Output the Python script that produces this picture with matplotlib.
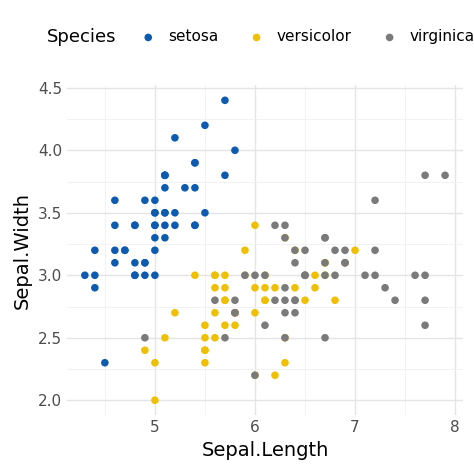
import matplotlib
matplotlib.use('Agg')
import matplotlib.pyplot as plt
from matplotlib.ticker import MultipleLocator
from matplotlib.offsetbox import HPacker

# iris data
setosa_len = [5.1,4.9,4.7,4.6,5.0,5.4,4.6,5.0,4.4,4.9,5.4,4.8,4.8,4.3,5.8,5.7,5.4,5.1,5.7,5.1,5.4,5.1,4.6,5.1,4.8,5.0,5.0,5.2,5.2,4.7,4.8,5.4,5.2,5.5,4.9,5.0,5.5,4.9,4.4,5.1,5.0,4.5,4.4,5.0,5.1,4.8,5.1,4.6,5.3,5.0]
setosa_wid = [3.5,3.0,3.2,3.1,3.6,3.9,3.4,3.4,2.9,3.1,3.7,3.4,3.0,3.0,4.0,4.4,3.9,3.5,3.8,3.8,3.4,3.7,3.6,3.3,3.4,3.0,3.4,3.5,3.4,3.2,3.1,3.4,4.1,4.2,3.1,3.2,3.5,3.6,3.0,3.4,3.5,2.3,3.2,3.5,3.8,3.0,3.8,3.2,3.7,3.3]
versi_len = [7.0,6.4,6.9,5.5,6.5,5.7,6.3,4.9,6.6,5.2,5.0,5.9,6.0,6.1,5.6,6.7,5.6,5.8,6.2,5.6,5.9,6.1,6.3,6.1,6.4,6.6,6.8,6.7,6.0,5.7,5.5,5.5,5.8,6.0,5.4,6.0,6.7,6.3,5.6,5.5,5.5,6.1,5.8,5.0,5.6,5.7,5.7,6.2,5.1,5.7]
versi_wid = [3.2,3.2,3.1,2.3,2.8,2.8,3.3,2.4,2.9,2.7,2.0,3.0,2.2,2.9,2.9,3.1,3.0,2.7,2.2,2.5,3.2,2.8,2.5,2.8,2.9,3.0,2.8,3.0,2.9,2.6,2.4,2.4,2.7,2.7,3.0,3.4,3.1,2.3,3.0,2.5,2.6,3.0,2.6,2.3,2.7,3.0,2.9,2.9,2.5,2.8]
virg_len = [6.3,5.8,7.1,6.3,6.5,7.6,4.9,7.3,6.7,7.2,6.5,6.4,6.8,5.7,5.8,6.4,6.5,7.7,7.7,6.0,6.9,5.6,7.7,6.3,6.7,7.2,6.2,6.1,6.4,7.2,7.4,7.9,6.4,6.3,6.1,7.7,6.3,6.4,6.0,6.9,6.7,6.9,5.8,6.8,6.7,6.7,6.3,6.5,6.2,5.9]
virg_wid = [3.3,2.7,3.0,2.9,3.0,3.0,2.5,2.9,2.5,3.6,3.2,2.7,3.0,2.5,2.8,3.2,3.0,3.8,2.6,2.2,3.2,2.8,2.8,2.7,3.3,3.2,2.8,3.0,2.8,3.0,2.8,3.8,2.8,2.8,2.6,3.0,3.4,3.1,3.0,3.1,3.1,3.1,2.7,3.2,3.3,3.0,2.5,3.0,3.4,3.0]

species = ["setosa", "versicolor", "virginica"]
colors = ["#0C5BB0", "#EFC000", "#7A7A7A"]
data = [(setosa_len, setosa_wid), (versi_len, versi_wid), (virg_len, virg_wid)]

fig, ax = plt.subplots(figsize=(4.74, 4.74), dpi=100)
fig.subplots_adjust(left=0.141, right=0.977, top=0.82, bottom=0.124)

for name, col, (x, y) in zip(species, colors, data):
    ax.scatter(x, y, s=30, color=col, label=name, edgecolors='none', zorder=3)

ax.set_xlim(4.12, 8.08)
ax.set_ylim(1.88, 4.52)
ax.xaxis.set_major_locator(MultipleLocator(1))
ax.xaxis.set_minor_locator(MultipleLocator(0.5))
ax.yaxis.set_major_locator(MultipleLocator(0.5))
ax.yaxis.set_minor_locator(MultipleLocator(0.25))
ax.grid(True, which='major', color='#e5e5e5', linewidth=1.0)
ax.grid(True, which='minor', color='#f0f0f0', linewidth=0.6)
for s in ax.spines.values():
    s.set_visible(False)
ax.tick_params(which='both', length=0, labelsize=11, colors='#4d4d4d')
ax.set_xlabel("Sepal.Length", fontsize=14)
ax.set_ylabel("Sepal.Width", fontsize=14)

leg = fig.legend(loc='upper center', bbox_to_anchor=(0.55, 0.97), ncol=3, frameon=False,
                 title="Species", fontsize=11, title_fontsize=13, handletextpad=0.3,
                 columnspacing=1.5)
# title to the left of the entries, like ggplot's top legend
box = leg._legend_box
box.__class__ = HPacker
box.sep = 12

plt.savefig("out.png")
